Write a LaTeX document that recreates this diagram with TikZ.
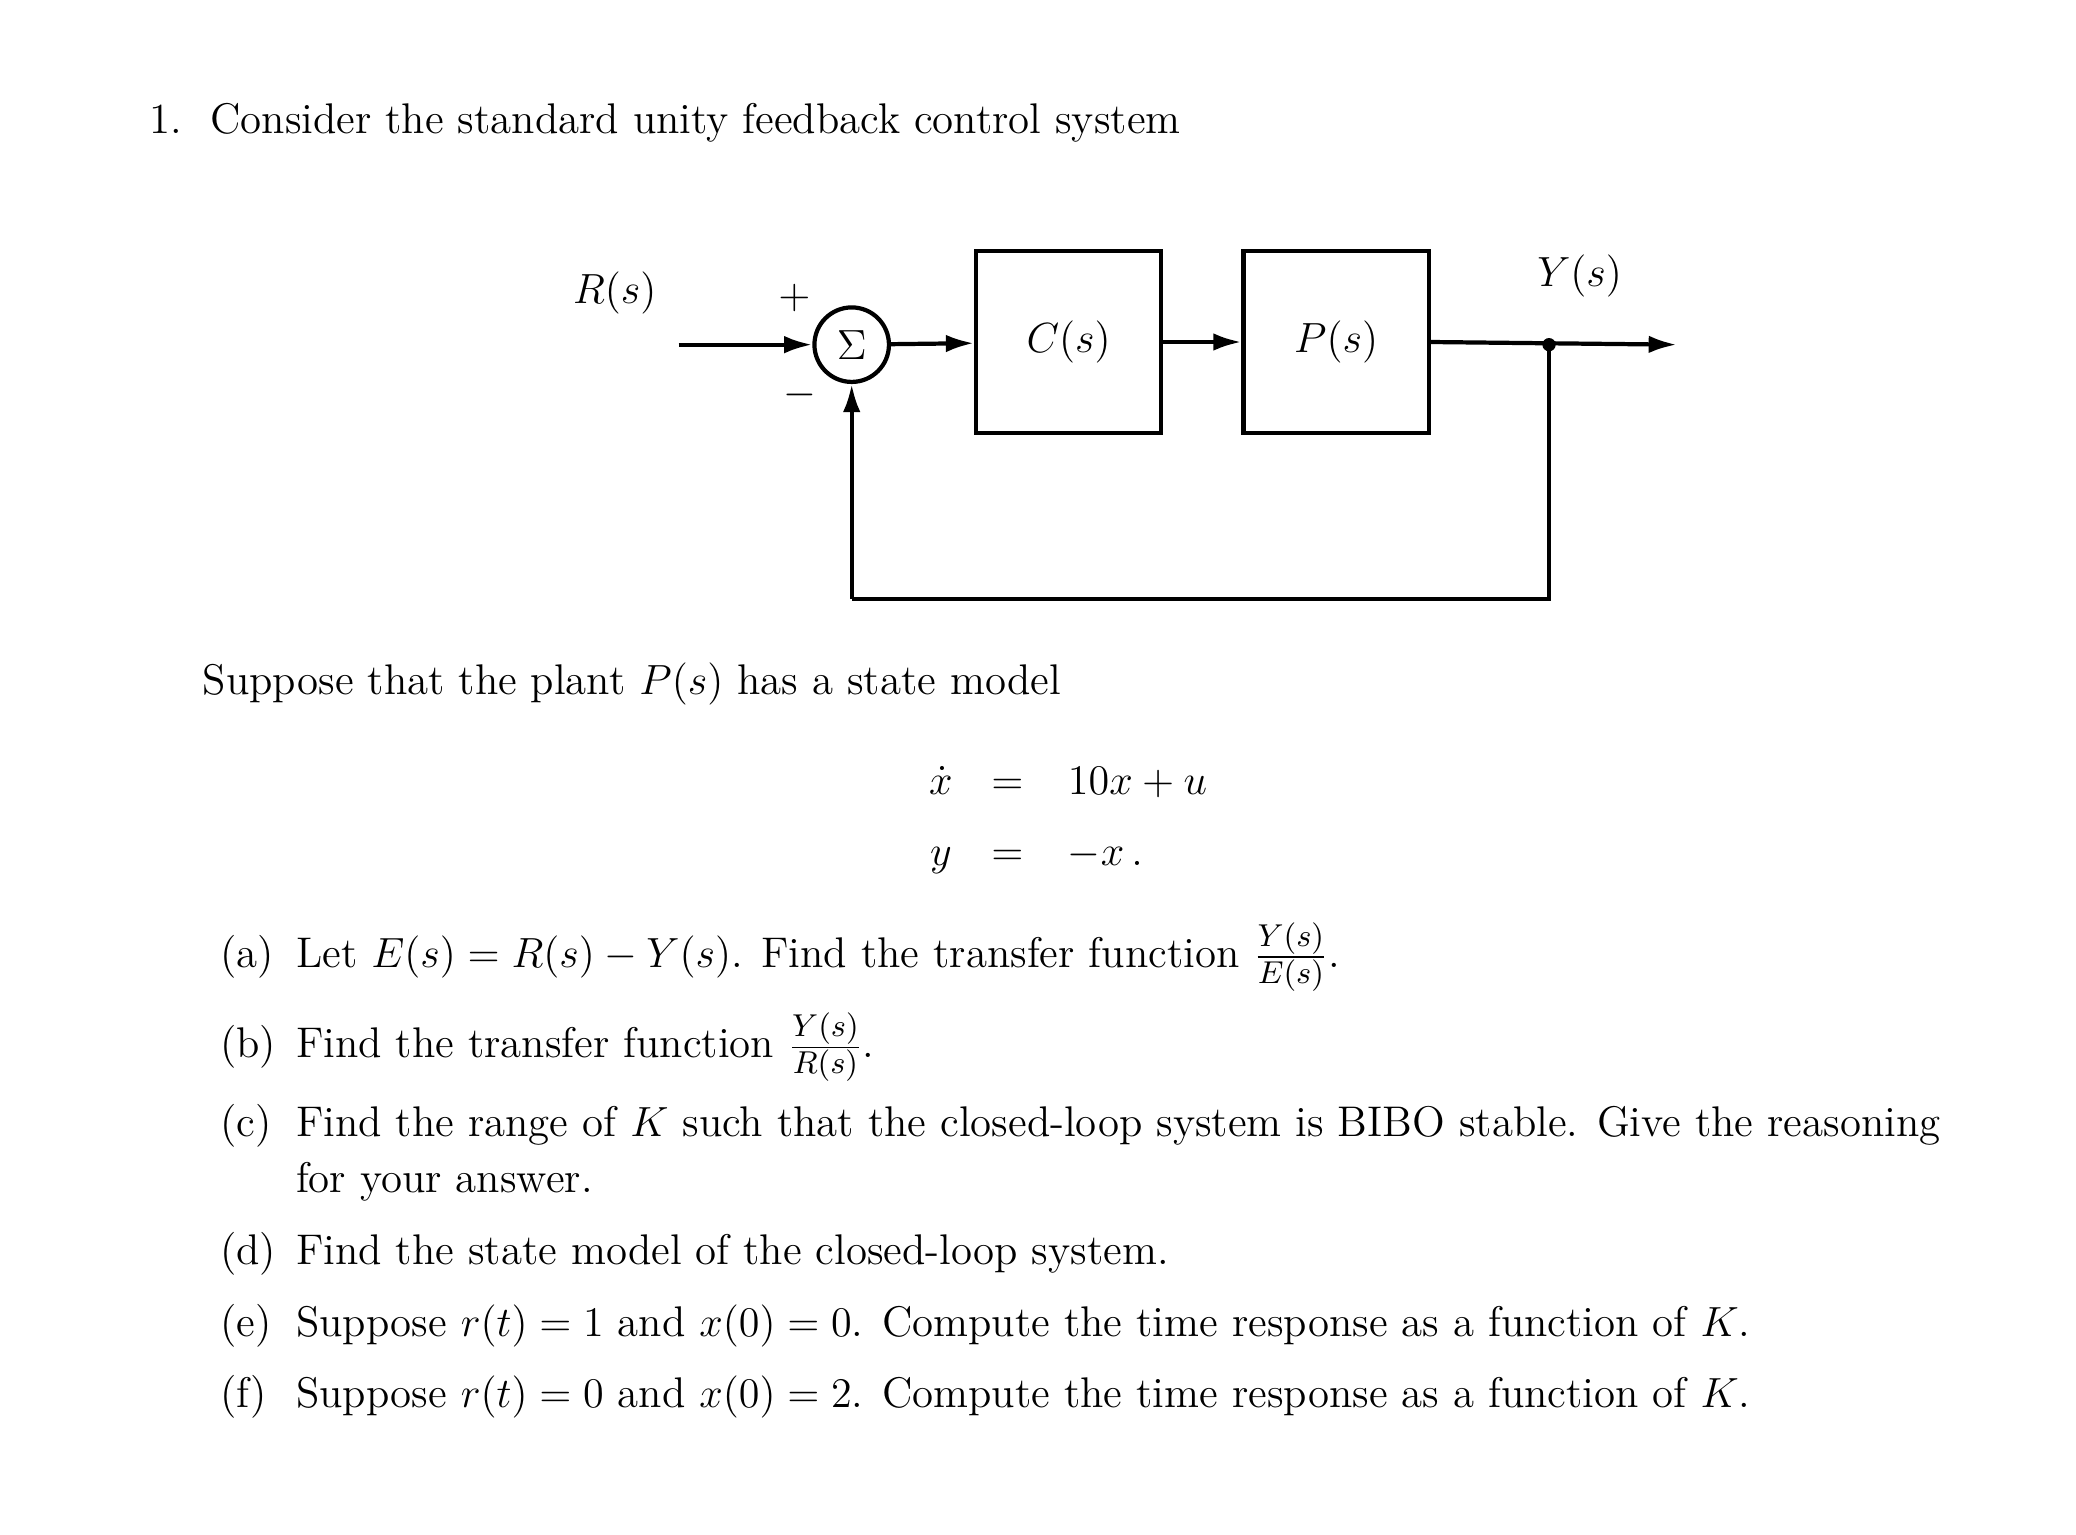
\documentclass[tikz,border=0pt]{standalone}
\usepackage{amsmath}
\usepackage{amssymb}
\usetikzlibrary{arrows.meta}
\tikzset{
  fnt/.style={font=\fontsize{12.2}{15}\selectfont},
  blk/.style={draw,line width=1.2pt,minimum width=1.85cm,minimum height=1.823cm,fnt},
  sig/.style={circle,draw,line width=1.2pt,minimum size=0.745cm,inner sep=0pt,fnt},
  txt/.style={anchor=base west,inner sep=0pt,fnt},
  wire/.style={line width=1.2pt},
  arr/.style={wire,-{Latex[length=8pt,width=5pt]}}
}
\begin{document}
\begin{tikzpicture}[x=0.013308cm,y=-0.013308cm]
        \useasboundingbox (0,0) rectangle (1560,1153);
        \node[sig] (S) at (640,259) {$\Sigma$};
        \node[blk] (C) at (803,257) {$C(s)$};
        \node[blk] (P) at (1004,257) {$P(s)$};
        \coordinate (in) at (510,259);
        \coordinate (out) at (1260,259);
        \coordinate (tap) at (1164,259);
        \coordinate (fb1) at (1164,450);
        \coordinate (fb2) at (640,450);

        \draw[arr] (in) -- (S);
        \draw[arr] (S) -- (C);
        \draw[arr] (C) -- (P);
        \draw[arr] (P.east) -- (out);
        \draw[wire] (tap) -- (fb1) -- (fb2);
        \draw[arr] (fb2) -- (S);
        \fill (tap) circle (5);

        \node[fnt] (R) at (462,220) {$R(s)$};
        \node[fnt] (Y) at (1187,207) {$Y(s)$};
        \node[fnt] (plus) at (597,224) {$+$};
        \node[fnt] (minus) at (601,297) {$-$};

        % text
        \node[txt] (t0) at (112,100) {1.\ \ Consider the standard unity feedback control system};
        \node[txt] (t1) at (152,522) {Suppose that the plant $P(s)$ has a state model};
        \node[txt,anchor=base] (e1) at (707,597) {$\dot x$};
        \node[txt,anchor=base] (q1) at (757,597) {$=$};
        \node[txt] (r1) at (802,597) {$10x+u$};
        \node[txt,anchor=base] (e2) at (707,650) {$y$};
        \node[txt,anchor=base] (q2) at (757,650) {$=$};
        \node[txt] (r2) at (802,650) {$-x\,.$};
        \node[txt] (la) at (165,727) {(a)};
        \node[txt] (ia) at (222,727) {Let $E(s)=R(s)-Y(s)$. Find the transfer function $\frac{Y(s)}{E(s)}$.};
        \node[txt] (lb) at (165,795) {(b)};
        \node[txt] (ib) at (222,795) {Find the transfer function $\frac{Y(s)}{R(s)}$.};
        \node[txt] (lc) at (165,854) {(c)};
        \node[txt] (ic) at (222,854) {Find the range of $K$ such that the closed-loop system is BIBO stable. Give the reasoning};
        \node[txt] (ic2) at (222,896) {for your answer.};
        \node[txt] (ld) at (165,950) {(d)};
        \node[txt] (id) at (222,950) {Find the state model of the closed-loop system.};
        \node[txt] (le) at (165,1004) {(e)};
        \node[txt] (ie) at (222,1004) {Suppose $r(t)=1$ and $x(0)=0$. Compute the time response as a function of $K$.};
        \node[txt] (lf) at (165,1058) {(f)};
        \node[txt] (if) at (222,1058) {Suppose $r(t)=0$ and $x(0)=2$. Compute the time response as a function of $K$.};
    \end{tikzpicture}
\end{document}
